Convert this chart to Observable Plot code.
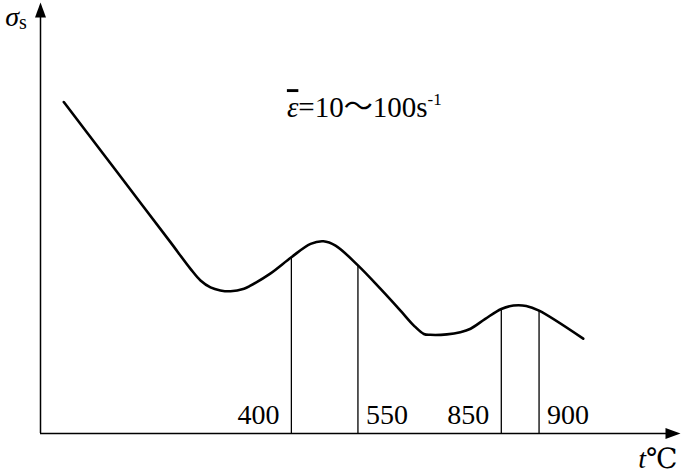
<!DOCTYPE html>
<html><head><meta charset="utf-8">
<script src="https://cdn.jsdelivr.net/npm/d3@7"></script>
<script src="https://cdn.jsdelivr.net/npm/@observablehq/plot@0.6"></script>
<style>
body{margin:0;background:#fff}
#chart svg{display:block}
#chart svg text, #chart svg tspan{font-family:"Liberation Serif","Times New Roman","DejaVu Serif","Noto Sans CJK SC",serif !important}
</style>
</head><body><div id="chart"></div>
<script>
// Schematic curve (abstract units: x 0..100 along the t axis, y 0..100 along the σs axis)
const curveX = [3.64, 10.0, 16.0, 20.3, 23.44, 25.0, 26.56, 28.1, 29.7, 31.8, 32.8, 35.9, 39.2, 42.2, 44.2, 46.1, 49.6, 53.1, 56.25, 58.3, 59.9, 60.9, 63.5, 65.6, 67.2, 69.5, 72.0, 73.9, 75.9, 77.9, 84.8];
const curveY = [76.9, 64.5, 52.8, 44.4, 38.2, 35.5, 33.9, 33.2, 33.0, 33.6, 34.3, 37.1, 40.9, 44.0, 44.6, 43.6, 39.0, 33.6, 28.5, 25.1, 23.1, 22.9, 23.0, 23.5, 24.3, 26.6, 28.9, 29.7, 29.6, 28.5, 22.0];
// Temperature markers
const markerX = [39.2, 49.6, 72.0, 77.9];
const markerTop = [40.9, 39.0, 28.9, 28.5];
const markerLabels = ["400", "550", "850", "900"];
// Texts
const yLabelParts = ["σ", "s"];
const xLabelParts = ["t", "℃"];
const rateParts = ["ε", "=10～100s", "-1"];   // ε is drawn with an overbar (mean strain rate)

const curve = curveX.map((x, i) => ({x, y: curveY[i]}));
const markers = markerX.map((x, i) => ({x, top: markerTop[i], label: markerLabels[i], side: i % 2 === 0 ? "left" : "right"}));

const serif = "Liberation Serif";
const arrowHead = {draw(ctx) { ctx.moveTo(0, 0); ctx.lineTo(5.5, 15); ctx.lineTo(-5.5, 15); ctx.closePath(); }};

const rateFull = rateParts.join("");
const yFull = yLabelParts.join("");
const xFull = xLabelParts.join("");

const svg = Plot.plot({
  width: 685, height: 473,
  marginTop: 0, marginRight: 0, marginBottom: 0, marginLeft: 0,
  x: {domain: [0, 100], range: [40, 680], axis: null},
  y: {domain: [0, 100], range: [433, 2], axis: null},
  style: {background: "#fff", color: "#000"},
  marks: [
    Plot.ruleX([0], {y1: 0, y2: 97, stroke: "#000", strokeWidth: 1.5}),
    Plot.ruleY([0], {x1: 0, x2: 98.5, stroke: "#000", strokeWidth: 1.5}),
    Plot.dot([{x: 0, y: 100}], {x: "x", y: "y", symbol: arrowHead, fill: "#000", stroke: null}),
    Plot.dot([{x: 100, y: 0}], {x: "x", y: "y", symbol: arrowHead, rotate: 90, fill: "#000", stroke: null}),
    Plot.ruleX(markers, {x: "x", y1: 0, y2: "top", stroke: "#000", strokeWidth: 1.3}),
    Plot.line(curve, {x: "x", y: "y", curve: "catmull-rom", stroke: "#000", strokeWidth: 2.6}),
    Plot.text(markers.filter(d => d.side === "left"), {x: "x", y: 2.3, text: "label", textAnchor: "end", lineAnchor: "bottom", dx: -12, fontSize: 28, fontFamily: serif, fill: "#000"}),
    Plot.text(markers.filter(d => d.side === "right"), {x: "x", y: 2.3, text: "label", textAnchor: "start", lineAnchor: "bottom", dx: 8, fontSize: 28, fontFamily: serif, fill: "#000"}),
    Plot.text([rateFull], {x: 38.5, y: 73.4, text: d => d, textAnchor: "start", lineAnchor: "bottom", fontSize: 29, fontFamily: serif, fill: "#000"}),
    Plot.text([yFull], {x: -5.5, y: 94.5, text: d => d, textAnchor: "start", lineAnchor: "bottom", fontSize: 28, fontFamily: serif, fill: "#000"}),
    Plot.text([xFull], {x: 93.4, y: -8.1, text: d => d, textAnchor: "start", lineAnchor: "bottom", fontSize: 28, fontFamily: serif, fill: "#000"})
  ]
});

function richText(full, parts) {
  d3.select(svg).selectAll("text").filter(function() { return this.textContent === full; }).each(function() {
    const t = d3.select(this);
    t.text(null);
    parts.forEach(p => {
      const s = t.append("tspan").text(p.text);
      for (const k in p.attr) s.attr(k, p.attr[k]);
    });
  });
}
richText(rateFull, [
  {text: rateParts[0], attr: {"font-style": "italic", "text-decoration": "overline"}},
  {text: rateParts[1], attr: {}},
  {text: rateParts[2], attr: {"font-size": 17, dy: -12}}
]);
richText(yFull, [
  {text: yLabelParts[0], attr: {"font-style": "italic"}},
  {text: yLabelParts[1], attr: {"font-size": 20, dy: 3}}
]);
richText(xFull, [
  {text: xLabelParts[0], attr: {"font-style": "italic"}},
  {text: xLabelParts[1], attr: {}}
]);

document.getElementById("chart").append(svg);
</script>
</body></html>
